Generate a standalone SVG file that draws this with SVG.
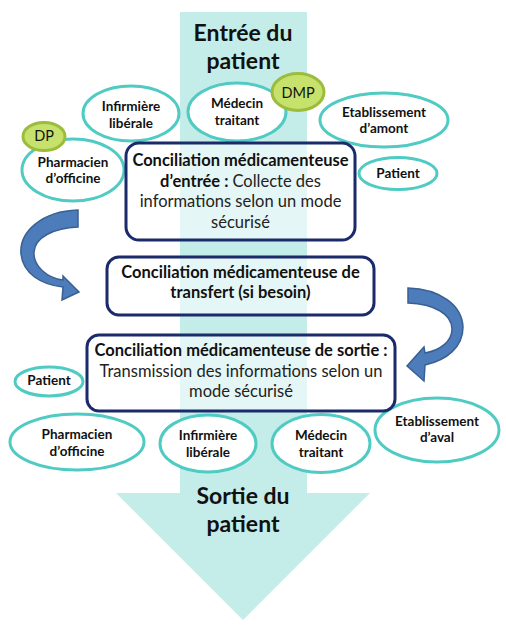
<svg xmlns="http://www.w3.org/2000/svg" width="506" height="626" viewBox="0 0 506 626">
<style>
.bg{fill:#c4ece8}
.el{fill:#fff;stroke:#4fcbc3;stroke-width:3}
.tag{fill:#c6e26c;stroke:#9cbc3c;stroke-width:3}
.box{fill:#fff;fill-opacity:0.55;stroke:#1b2a6b;stroke-width:3}
.curve{fill:#4d7cba;stroke:#3a5f94;stroke-width:1.5}
text{font-family:Lato,"Liberation Sans",sans-serif;fill:#111;text-anchor:middle}
.n{font-size:13.5px;font-weight:bold}
.t{font-size:14.5px}
.h{font-size:23px;font-weight:bold}
.b{font-size:16.5px;font-weight:bold}
.r{font-size:16.5px;font-weight:normal;fill:#222}
</style>
<g id="flow-arrow">
<path class="bg" d="M180,12 H307 V493 H370 L243,620 L116,493 H180 Z"/>
<text class="h" x="243" y="41">Entrée du</text>
<text class="h" x="243" y="69">patient</text>
<text class="h" x="243" y="504">Sortie du</text>
<text class="h" x="243" y="532">patient</text>
</g>
<g id="connectors">
<path class="curve" d="M78,210 C42,211 19,232 21,254 C23,274 42,285 63,287 L62,300 L79,292 L63,276 L63,280 C47,278 33,266 34,252 C35,237 54,228 78,227 Z"/>
<path class="curve" d="M408,288 C440,289 462,305 463,327 C463,347 447,360 425,365 L424,381 L407,366 L424,347 L425,353 C441,350 452,341 452,329 C452,314 434,304 408,303 Z"/>
</g>
<g id="infirmiere-top"><ellipse class="el" cx="131" cy="113.5" rx="48" ry="27.5"/><text class="n" x="131" y="111">Infirmière</text><text class="n" x="131" y="128">libérale</text></g>
<g id="medecin-top"><ellipse class="el" cx="237" cy="112" rx="49" ry="29"/><text class="n" x="237" y="108">Médecin</text><text class="n" x="237" y="125">traitant</text></g>
<g id="dmp"><ellipse class="tag" cx="298" cy="92" rx="26" ry="18.5"/><text class="t" x="298" y="98">DMP</text></g>
<g id="etablissement-amont"><ellipse class="el" cx="384" cy="120" rx="64" ry="27"/><text class="n" x="384" y="117">Etablissement</text><text class="n" x="384" y="133">d’amont</text></g>
<g id="pharmacien-top"><ellipse class="el" cx="73" cy="170" rx="51" ry="31"/><text class="n" x="73" y="167">Pharmacien</text><text class="n" x="73" y="183">d’officine</text></g>
<g id="dp"><ellipse class="tag" cx="44" cy="136.5" rx="21" ry="14"/><text class="t" x="44" y="141">DP</text></g>
<g id="patient-top"><ellipse class="el" cx="398" cy="173.5" rx="39" ry="16"/><text class="n" x="398" y="178">Patient</text></g>
<g id="patient-bottom"><ellipse class="el" cx="49" cy="381.5" rx="34" ry="14.5"/><text class="n" x="49" y="385">Patient</text></g>
<g id="pharmacien-bottom"><ellipse class="el" cx="77" cy="442" rx="67" ry="28"/><text class="n" x="77" y="439">Pharmacien</text><text class="n" x="77" y="456">d’officine</text></g>
<g id="infirmiere-bottom"><ellipse class="el" cx="208" cy="443.5" rx="48" ry="28.5"/><text class="n" x="208" y="440">Infirmière</text><text class="n" x="208" y="457">libérale</text></g>
<g id="medecin-bottom"><ellipse class="el" cx="321" cy="443.5" rx="49" ry="29"/><text class="n" x="321" y="440">Médecin</text><text class="n" x="321" y="457">traitant</text></g>
<g id="etablissement-aval"><ellipse class="el" cx="437" cy="430" rx="62" ry="32"/><text class="n" x="437" y="426">Etablissement</text><text class="n" x="437" y="442">d’aval</text></g>
<g id="conciliation-entree">
<rect class="box" x="126" y="143" width="229" height="97" rx="13"/>
<text class="b" x="240.5" y="166">Conciliation médicamenteuse</text>
<text x="240.5" y="187"><tspan class="b">d’entrée : </tspan><tspan class="r">Collecte des</tspan></text>
<text class="r" x="240.5" y="207">informations selon un mode</text>
<text class="r" x="240.5" y="228">sécurisé</text>
</g>
<g id="conciliation-transfert">
<rect class="box" x="107" y="257" width="267" height="58" rx="12"/>
<text class="b" x="240.5" y="278">Conciliation médicamenteuse de</text>
<text class="b" x="240.5" y="298">transfert (si besoin)</text>
</g>
<g id="conciliation-sortie">
<rect class="box" x="87" y="335" width="308" height="76" rx="12"/>
<text class="b" x="241" y="356">Conciliation médicamenteuse de sortie :</text>
<text class="r" x="241" y="377">Transmission des informations selon un</text>
<text class="r" x="241" y="397">mode sécurisé</text>
</g>
</svg>
